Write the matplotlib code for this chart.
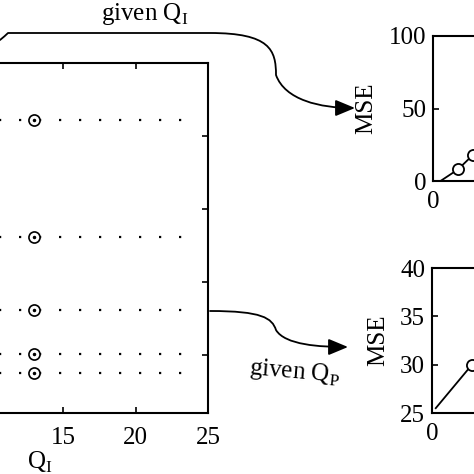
import matplotlib
matplotlib.use("Agg")
import matplotlib.pyplot as plt
from matplotlib.path import Path
from matplotlib.patches import FancyArrowPatch

plt.rcParams['font.family'] = ['Liberation Serif', 'DejaVu Serif']
plt.rcParams['mathtext.fontset'] = 'custom'
plt.rcParams['mathtext.rm'] = 'Liberation Serif'

# main panel data
q1_points = [13, 13, 13, 13, 13]
level_points = [4.22, 2.62, 1.62, 1.01, 0.75]
# top-right panel (given Q_I)
top_x = [0.3, 1.0, 1.6]
top_y = [0, 8, 18]
top_marked = [1.0, 1.6]
top_marked_y = [8, 18]
# bottom-right panel (given Q_P)
bot_x = [0.15, 1.6]
bot_y = [25.5, 30]

W = H = 474
fig = plt.figure(figsize=(4.74, 4.74), dpi=100)

def ax_px(l, t, r, b):
    return fig.add_axes([l / W, 1 - b / H, (r - l) / W, (b - t) / H])

FS = 18
ax = ax_px(-154, 63, 208, 413)
ax.set_xlim(0, 25)
ax.set_ylim(0.205, 5)
for y in level_points:
    ax.plot([0, 24], [y, y], linestyle=(0, (1, 8)), color='black', lw=1.6)
ax.plot(q1_points, level_points, 'o', mfc='white', mec='black', ms=8, mew=1.2)
ax.plot(q1_points, level_points, '.', color='black', ms=3)
ax.set_xticks([5, 10, 15, 20, 25])
ax.set_xticklabels(['', '', '15', '20', '25'], fontsize=FS)
ax.set_yticks([1, 2, 3, 4])
ax.set_yticklabels([])
ax.tick_params(direction='in', top=True, right=True, length=4, width=1.2)
ax.tick_params(axis='x', pad=10)
for s in ax.spines.values():
    s.set_linewidth(1.5)
fig.text(40 / W, 1 - 462 / H, r'Q$_\mathrm{I}$', fontsize=FS, ha='center', va='center')

def small(a, ylim, yt):
    a.set_xlim(0, 4)
    a.set_ylim(*ylim)
    a.set_yticks(yt)
    a.set_yticklabels([str(v) for v in yt], fontsize=FS)
    a.set_xticks([0])
    a.set_xticklabels(['0'], fontsize=FS)
    a.tick_params(direction='in', length=4, width=1.2)
    a.tick_params(axis='y', pad=5)
    a.tick_params(axis='x', pad=7)
    a.set_ylabel('MSE', fontsize=FS, labelpad=8)
    for s in a.spines.values():
        s.set_linewidth(1.5)

a1 = ax_px(433, 36, 533, 181)
a1.plot(top_x, top_y, color='black', lw=1.3)
a1.plot(top_marked, top_marked_y, 'o', mfc='white', mec='black', ms=8, mew=1.3)
small(a1, (0, 100), [0, 50, 100])

a2 = ax_px(432, 268, 532, 413)
a2.plot(bot_x, bot_y, color='black', lw=1.3)
a2.plot(bot_x[1:], bot_y[1:], 'o', mfc='white', mec='black', ms=8, mew=1.3)
small(a2, (25, 40), [25, 30, 35, 40])

def P(x, y):
    return (x / W, 1 - y / H)

verts = [P(0, 40), P(5, 36), P(8, 33), P(14, 33), P(210, 33),
         P(270, 33), P(276, 50), P(276, 75), P(285, 100), P(320, 108), P(355, 108)]
codes = [Path.MOVETO, Path.CURVE3, Path.CURVE3, Path.LINETO, Path.LINETO,
         Path.CURVE4, Path.CURVE4, Path.CURVE4, Path.CURVE4, Path.CURVE4, Path.CURVE4]
fig.add_artist(FancyArrowPatch(path=Path(verts, codes), transform=fig.transFigure,
                               arrowstyle='-|>,head_length=12,head_width=5', color='black', lw=1.3))

verts2 = [P(210, 311), P(262, 311), P(272, 318), P(276, 330), P(285, 345), P(320, 347), P(348, 347)]
codes2 = [Path.MOVETO, Path.CURVE4, Path.CURVE4, Path.CURVE4, Path.CURVE4, Path.CURVE4, Path.CURVE4]
fig.add_artist(FancyArrowPatch(path=Path(verts2, codes2), transform=fig.transFigure,
                               arrowstyle='-|>,head_length=12,head_width=5', color='black', lw=1.3))

fig.text(145 / W, 1 - 14 / H, r'given Q$_\mathrm{I}$', fontsize=FS, ha='center', va='center')
fig.text(295 / W, 1 - 372 / H, r'given Q$_\mathrm{P}$', fontsize=FS, ha='center', va='center', rotation=-5)

fig.savefig('out.png', dpi=100)
